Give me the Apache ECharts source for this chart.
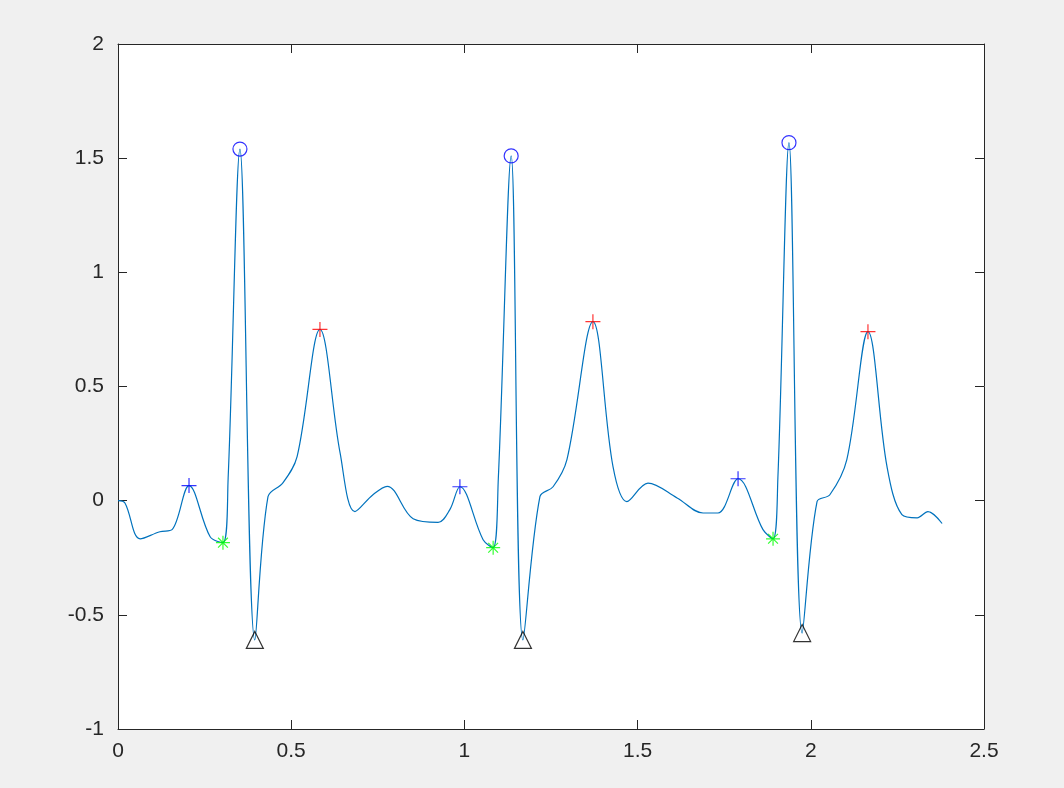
<!DOCTYPE html>
<html>
<head>
<meta charset="utf-8">
<script src="https://cdn.jsdelivr.net/npm/echarts@6/dist/echarts.min.js"></script>
<style>html,body{margin:0;background:#f0f0f0}#chart{width:1064px;height:788px}</style>
</head>
<body>
<div id="chart"></div>
<script>
// ECG trace
const ecgX = [0, 0.02, 0.064, 0.121, 0.156, 0.205, 0.266, 0.303, 0.318, 0.352, 0.395, 0.433, 0.476, 0.517, 0.583, 0.641, 0.684, 0.736, 0.777, 0.852, 0.924, 0.958,
  0.987, 1.054, 1.083, 1.098, 1.135, 1.169, 1.218, 1.256, 1.296, 1.371, 1.429, 1.469, 1.530, 1.614, 1.689, 1.732,
  1.790, 1.862, 1.891, 1.905, 1.937, 1.975, 2.018, 2.055, 2.104, 2.165, 2.220, 2.263, 2.307, 2.338, 2.379]
const ecgY = [0, -0.01, -0.167, -0.136, -0.127, 0.066, -0.158, -0.184, 0.1, 1.54, -0.61, 0.018, 0.078, 0.193, 0.75, 0.21, -0.048, 0.026, 0.063, -0.079, -0.095, -0.039,
  0.061, -0.171, -0.206, 0.1, 1.51, -0.61, 0.018, 0.061, 0.18, 0.784, 0.149, -0.004, 0.077, 0.012, -0.054, -0.054,
  0.096, -0.127, -0.167, 0.1, 1.568, -0.58, -0.004, 0.026, 0.18, 0.74, 0.149, -0.061, -0.075, -0.048, -0.1]
// detected points
const pWave = [[0.205, 0.066], [0.987, 0.061], [1.790, 0.096]]
const qWave = [[0.303, -0.184], [1.083, -0.206], [1.891, -0.167]]
const rWave = [[0.352, 1.54], [1.135, 1.51], [1.937, 1.568]]
const sWave = [[0.395, -0.61], [1.169, -0.61], [1.975, -0.58]]
const tWave = [[0.583, 0.75], [1.371, 0.784], [2.165, 0.74]]

const plus = 'path://M10,0L10,20M0,10L20,10'
const star = 'path://M10,0L10,20M0,10L20,10M3,3L17,17M17,3L3,17'
const axisCol = '#262626'
const font = { fontFamily: 'Liberation Sans', fontSize: 21, color: axisCol }

function mark(name, data, symbol, size, color) {
  return {
    name, type: 'scatter', data, symbol, symbolSize: size, z: 5,
    itemStyle: { color: 'none', borderColor: color, borderWidth: 1.2 }
  }
}

function box(kind, pos, extra) {
  return Object.assign({
    type: 'value', position: pos, splitLine: { show: false },
    axisLine: { show: true, onZero: false, lineStyle: { color: axisCol } },
    axisTick: { show: true, inside: true, length: 9, lineStyle: { color: axisCol } },
    axisLabel: { show: false }
  }, kind === 'x' ? { min: 0, max: 2.5, interval: 0.5 } : { min: -1, max: 2, interval: 0.5 }, extra)
}

const chart = echarts.init(document.getElementById('chart'))
chart.setOption({
  animation: false,
  grid: { left: 118, right: 80, top: 44, bottom: 59, show: true, backgroundColor: '#fff', borderWidth: 0 },
  xAxis: [
    box('x', 'bottom', { axisLabel: { ...font, margin: 12 } }),
    box('x', 'top')
  ],
  yAxis: [
    box('y', 'left', { axisLabel: { ...font, margin: 14 } }),
    box('y', 'right')
  ],
  series: [
    { type: 'line', data: ecgX.map((x, i) => [x, ecgY[i]]), smooth: 0.35, showSymbol: false,
      lineStyle: { color: '#0072BD', width: 1.2 } },
    mark('P', pWave, plus, 15, '#0000ff'),
    mark('Q', qWave, star, 14, '#00ff00'),
    mark('R', rWave, 'circle', 14, '#0000ff'),
    mark('S', sWave, 'triangle', 17, '#000'),
    mark('T', tWave, plus, 15, '#ff0000')
  ]
})
</script>
</body>
</html>
